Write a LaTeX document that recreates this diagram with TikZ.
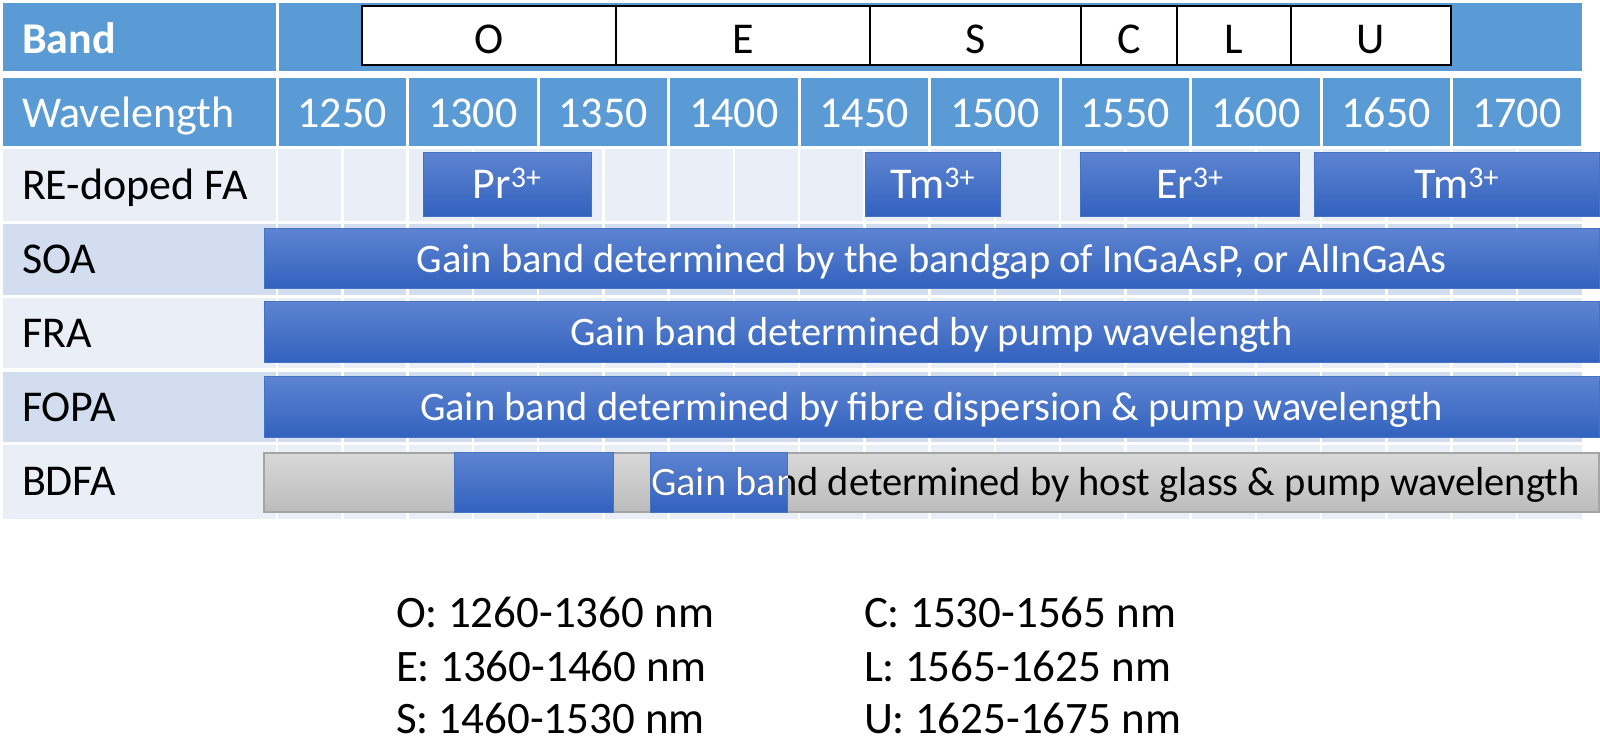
\documentclass[tikz,border=0pt]{standalone}
\usepackage{fontspec}
\setmainfont{Carlito}
\definecolor{hdr}{HTML}{5B9BD5}
\definecolor{bandA}{HTML}{D2DEEF}
\definecolor{bandB}{HTML}{EAEFF7}
\definecolor{barTop}{HTML}{5E84D1}
\definecolor{barBot}{HTML}{3262BE}
\definecolor{barLine}{HTML}{4472C4}
\definecolor{grayTop}{HTML}{D8D8D8}
\definecolor{grayBot}{HTML}{BCBCBC}
\definecolor{grayLine}{HTML}{A5A5A5}
\newcommand\ionsup[1]{\raisebox{11pt}{\fontsize{30}{32}\selectfont #1}}
\begin{document}
\begin{tikzpicture}[x=1pt,y=-1pt,
  every node/.style={inner sep=0pt, outer sep=0pt},
  txt/.style={font=\fontsize{44}{52}\selectfont},
  btxt/.style={font=\fontsize{40.5}{48}\selectfont},
  lbl/.style={txt, anchor=base west},
  bandbox/.style={rectangle, anchor=north west, draw=black, line width=2.5pt, fill=white, txt, text height=35pt, text depth=0pt, minimum height=59pt},
  bar/.style={rectangle, anchor=north west, draw=barLine, line width=1pt, top color=barTop, bottom color=barBot, text=white, txt, text height=28pt, text depth=0pt},
  graybar/.style={rectangle, anchor=north west, draw=grayLine, line width=1.5pt, top color=grayTop, bottom color=grayBot},
  gridline/.style={white, line width=2.5pt}]
\useasboundingbox (0,0) rectangle (1600,737);
\fill[white] (0,0) rectangle (1600,737);

% Band row
\fill[hdr] (3,3) rectangle (275.5,71);
\fill[hdr] (278.5,3) rectangle (1582,71);
\node[anchor=base west, text=white, font={\fontsize{44}{52}\selectfont\bfseries}] (band) at (22,53) {Band};
\node[bandbox, minimum width=254] (bO) at (362,6) {O};
\node[bandbox, minimum width=254] (bE) at (616,6) {E};
\node[bandbox, minimum width=211] (bS) at (870,6) {S};
\node[bandbox, minimum width=96] (bC) at (1081,6) {C};
\node[bandbox, minimum width=114] (bL) at (1177,6) {L};
\node[bandbox, minimum width=160] (bU) at (1291,6) {U};

% Wavelength row
\fill[hdr] (3,78) rectangle (275.5,146);
\node[lbl, text=white] (wl) at (22,127) {Wavelength};
\foreach \k in {0,...,9}{
  \pgfmathtruncatemacro{\lam}{1250+50*\k}
  \fill[hdr] ({277+\k*130.5+1.5},78) rectangle ({277+(\k+1)*130.5-1.5},146);
  \node[txt, anchor=base, text=white] (w\lam) at ({277+\k*130.5+65.25},127) {\lam};
}

% lower rows
\fill[bandB] (3,149) rectangle (1582,221);
\fill[bandA] (3,224) rectangle (1582,295);
\fill[bandB] (3,298) rectangle (1582,368);
\fill[bandA] (3,371.5) rectangle (1582,442);
\fill[bandB] (3,445) rectangle (1582,519);
\foreach \k in {0,...,19}{
  \draw[gridline] ({277+\k*65.25},147) -- ({277+\k*65.25},521);
}

\node[lbl] (re) at (22,199) {RE-doped FA};
\node[lbl] (soa) at (22,273) {SOA};
\node[lbl] (fra) at (22,347) {FRA};
\node[lbl] (fopa) at (22,421) {FOPA};
\node[lbl] (bdfa) at (22,495) {BDFA};

% RE-doped bars
\node[bar, minimum width=168, minimum height=64] (pr) at (423,152) {Pr\ionsup{3+}};
\node[bar, minimum width=135, minimum height=64] (tm1) at (865,152) {Tm\ionsup{3+}};
\node[bar, minimum width=219, minimum height=64] (er) at (1080,152) {Er\ionsup{3+}};
\node[bar, minimum width=285, minimum height=64] (tm2) at (1314,152) {Tm\ionsup{3+}};

% long bars
\node[bar, btxt, minimum width=1335, minimum height=60] (soabar) at (264,228) {Gain band determined by the bandgap of InGaAsP, or AlInGaAs};
\node[bar, btxt, minimum width=1335, minimum height=61] (frabar) at (264,301) {Gain band determined by pump wavelength};
\node[bar, btxt, minimum width=1335, minimum height=61] (fopabar) at (264,376) {Gain band determined by fibre dispersion \& pump wavelength};

% BDFA
\node[graybar, minimum width=1335, minimum height=59] (bdfagray) at (264,453) {};
\node[bar, minimum width=159, minimum height=60] (bd1) at (454,452) {};
\node[bar, minimum width=137, minimum height=60] (bd2) at (650,452) {};
\node[btxt, anchor=base west] (bdfatext) at (651,495) {Gain band determined by host glass \& pump wavelength};
\begin{scope}
  \clip (bd2.north west) rectangle (bd2.south east);
  \node[btxt, anchor=base west, text=white] (bdfatextw) at (651,495) {Gain band determined by host glass \& pump wavelength};
\end{scope}

% legend
\begin{scope}[every node/.append style={anchor=base west, font=\fontsize{45}{54}\selectfont}]
\node (lO) at (396,627) {O: 1260-1360 nm};
\node (lE) at (396,681) {E: 1360-1460 nm};
\node (lS) at (396,733) {S: 1460-1530 nm};
\node (lC) at (864,627) {C: 1530-1565 nm};
\node (lL) at (864,681) {L: 1565-1625 nm};
\node (lU) at (864,733) {U: 1625-1675 nm};
\end{scope}
\end{tikzpicture}
\end{document}
